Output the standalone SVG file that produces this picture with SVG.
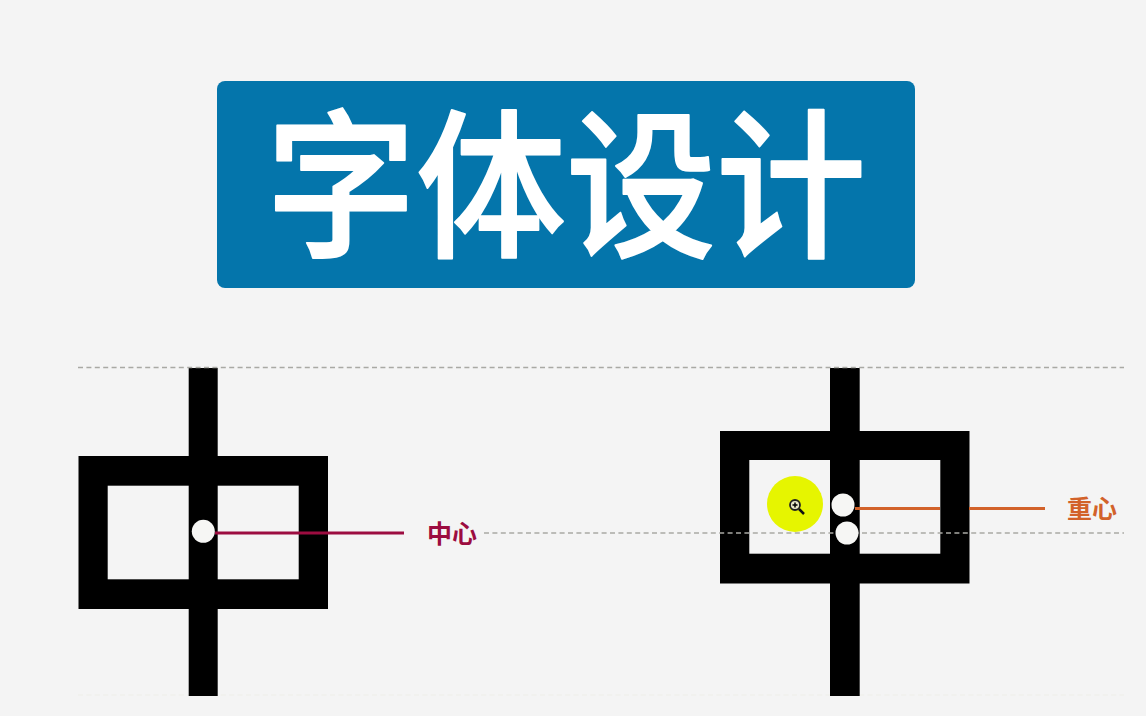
<svg xmlns="http://www.w3.org/2000/svg" width="1146" height="716" viewBox="0 0 1146 716">
<style>
.cjk{font-family:"Noto Sans CJK SC","Noto Sans",sans-serif}
.k{fill:#000}
.h{fill:#f4f4f4}
.dot{fill:#f6f6f4}
.dash{stroke:#a9a9a4;stroke-width:1.5;stroke-dasharray:5 3.4;fill:none}
</style>
<rect width="1146" height="716" fill="#f4f4f4"/>
<g id="title">
<rect x="217" y="81" width="698" height="207" rx="8" fill="#0475ab"/>
<text class="cjk" transform="translate(566 245) scale(1 1.07)" font-size="150" font-weight="500" fill="#fff" stroke="#fff" stroke-width="1.800" stroke-linejoin="round" text-anchor="middle">字体设计</text>
</g>
<path d="M78 695H1124" stroke="#efefec" stroke-width="1.500" stroke-dasharray="5 3.400"/>
<g id="glyph-center">
<rect class="k" x="78.500" y="456" width="249.500" height="153"/>
<rect class="h" x="107.700" y="485.700" width="191" height="93.600"/>
<rect class="k" x="188.700" y="368" width="29" height="328"/>
</g>
<g id="glyph-gravity">
<rect class="k" x="720" y="431" width="249.500" height="152.500"/>
<rect class="h" x="749.300" y="460" width="191" height="93.700"/>
<rect class="k" x="830" y="368" width="29.700" height="328"/>
</g>
<g id="highlight">
<circle cx="795" cy="504" r="28" fill="#e6f500"/>
<circle cx="795" cy="505" r="5" fill="#e8e8c8" stroke="#222" stroke-width="1.800"/>
<path d="M792.500 505h5M795 502.500v5" stroke="#000" stroke-width="1.500"/>
<path d="M799 509l5 5" stroke="#111" stroke-width="2.500"/>
</g>
<g id="connectors">
<path class="dash" d="M78 367.500H1124"/>
<path class="dash" d="M484 533H1124"/>
<path d="M215 533H404" stroke="#9c0c40" stroke-width="3" fill="none"/>
<path d="M855 508.500H940M969 508.500H1045" stroke="#d2622a" stroke-width="3" fill="none"/>
</g>
<g id="center-point">
<circle class="dot" cx="203.300" cy="531.300" r="11.500"/>
<text class="cjk" x="452" y="543" font-size="25" font-weight="700" fill="#9c0c40" text-anchor="middle">中心</text>
</g>
<g id="gravity-point">
<circle class="dot" cx="843" cy="505" r="11.500"/>
<circle class="dot" cx="847" cy="533" r="11.500"/>
<text class="cjk" x="1092" y="518" font-size="25" font-weight="700" fill="#d2622a" text-anchor="middle">重心</text>
</g>
</svg>
